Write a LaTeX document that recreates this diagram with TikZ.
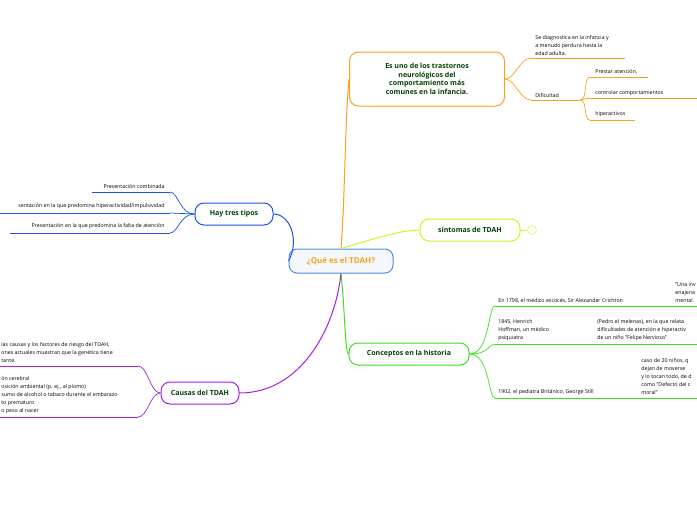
\documentclass[tikz,border=0pt]{standalone}
\usepackage{fontspec}
\setmainfont{Open Sans}
\begin{document}
\begin{tikzpicture}[x=1pt,y=-1pt,
  topic/.style={draw,line width=1pt,rounded corners=9pt,fill=white,font=\bfseries\fontsize{7}{8.5}\selectfont,text=green!25!black,align=center},
  sm/.style={font=\fontsize{5.3}{8}\selectfont,anchor=south west,inner sep=1pt,align=left},
  smr/.style={font=\fontsize{5.3}{8}\selectfont,anchor=south east,inner sep=1pt,align=left}]
\definecolor{cor}{HTML}{F7A21B}\definecolor{cyg}{HTML}{D4F01E}\definecolor{cgr}{HTML}{39E01E}
\definecolor{cpu}{HTML}{A41EE6}\definecolor{cbl}{HTML}{1E50E6}\definecolor{ccen}{HTML}{4A90E2}
\useasboundingbox (0,0) rectangle (697,520);
% center
\node[draw=ccen,line width=1pt,rounded corners=8pt,fill=ccen!6,minimum width=104pt,minimum height=24pt,font=\bfseries\fontsize{8}{9}\selectfont,text=cor] (c) at (341,261) {¿Qué es el TDAH?};
% topics
\node[topic,draw=cor,minimum width=155pt,minimum height=54pt] (t1) at (427,79) {Es uno de los trastornos\\neurológicos del\\comportamiento más\\comunes en la infancia.};
\node[topic,draw=cyg,minimum width=100pt,minimum height=22pt] (t2) at (470,230) {síntomas de TDAH};
\node[circle,draw=cyg,minimum size=9pt,inner sep=0] (t2c) at (532,230) {};
\node[topic,draw=cgr,minimum width=120pt,minimum height=22pt] (t3) at (409,354) {Conceptos en la historia};
\node[topic,draw=cpu,minimum width=78pt,minimum height=22pt] (t4) at (200,393) {Causas del TDAH};
\node[topic,draw=cbl,minimum width=78pt,minimum height=22pt] (t5) at (234,214) {Hay tres tipos};
\draw[cor,line width=1pt] (c.north) .. controls (345,200) and (345,120) .. (t1.west);
\draw[cyg,line width=1pt] (c.north) .. controls (370,240) and (400,230) .. (t2.west);
\draw[cyg] (t2.east) -- (t2c);
\draw[cgr,line width=1pt] (c.south) .. controls (345,310) and (345,354) .. (t3.west);
\draw[cpu,line width=1pt] (c.south) .. controls (335,330) and (300,393) .. (t4.east);
\draw[cbl,line width=1pt] (c.west) .. controls (300,240) and (290,214) .. (t5.east);
% orange branch
\begin{scope}[cor,line width=0.7pt]
\node[sm,text=black] (o1) at (534,57) {Se diagnostica en la infancia y\\a menudo perdura hasta la\\edad adulta.};
\draw (531,58) -- (625,58);
\node[sm,text=black] (o2) at (534,99) {Dificultad};
\draw (531,100) -- (580,100);
\draw (t1.east) .. controls (515,79) and (520,58) .. (531,58);
\draw (t1.east) .. controls (515,79) and (520,100) .. (531,100);
\node[sm,text=black] at (594,76) {Prestar atención,};
\node[sm,text=black] at (594,97) {controlar comportamientos};
\node[sm,text=black] at (594,118) {hiperactivos};
\draw (590,77) -- (648,77); \draw (590,98) -- (697,98); \draw (590,120) -- (635,120);
\draw (580,100) .. controls (588,100) and (583,77) .. (590,77);
\draw (580,100) -- (590,98);
\draw (580,100) .. controls (588,100) and (583,120) .. (590,120);
\end{scope}
% green branch
\begin{scope}[cgr,line width=0.7pt]
\node[sm,text=black] at (497,305) {En 1798, el médico escocés, Sir Alexander Crichton};
\draw (495,306) -- (672,306);
\node[sm,text=black] at (674,304) {"Una inv\\enajena\\mental.};
\node[sm,text=black] at (497,342) {1845, Henrich\\Hoffman, un médico\\psiquiatra};
\draw (495,344) -- (570,344);
\node[sm,text=black] at (596,342) {(Pedro el melenas), en la que relata\\dificultades de atención e hiperactiv\\de un niño "Felipe Nervioso"};
\draw (595,344) -- (697,344);
\node[sm,text=black] at (497,396) {1902, el pediatra Británico, George Still};
\draw (495,398) -- (612,398);
\node[sm,text=black] at (640,396) {caso de 20 niños, q\\dejan de moverse\\ y lo tocan todo, de d\\como "Defecto del c\\ moral"};
\draw (640,398) -- (697,398);
\draw (t3.east) .. controls (490,354) and (488,306) .. (495,306);
\draw (t3.east) .. controls (490,354) and (488,344) .. (495,344);
\draw (t3.east) .. controls (490,354) and (488,398) .. (495,398);
\draw (570,344) -- (595,344); \draw (612,398) -- (640,398); \draw (672,306) -- (697,306);
\end{scope}
% purple branch
\begin{scope}[cpu,line width=0.7pt]
\node[sm,text=black] at (0,364) {las causas y los factores de riesgo del TDAH,\\ones actuales muestran que la genética tiene\\tante.};
\draw (0,366) -- (138,366);
\node[sm,text=black] at (0,415) {ón cerebral\\osición ambiental (p. ej., al plomo)\\sumo de alcohol o tabaco durante el embarazo\\to prematuro\\o peso al nacer};
\draw (0,417) -- (138,417);
\draw (t4.west) .. controls (150,393) and (148,366) .. (138,366);
\draw (t4.west) .. controls (150,393) and (148,417) .. (138,417);
\end{scope}
% blue branch
\begin{scope}[cbl,line width=0.7pt]
\node[smr,text=black] at (166,190) {Presentación combinada};
\draw (92,192) -- (170,192);
\node[smr,text=black] at (166,210) {sentación en la que predomina hiperactividad/impulsividad};
\draw (0,213) -- (170,213);
\node[smr,text=black] at (166,230) {Presentación en la que predomina la falta de atención};
\draw (10,233) -- (170,233);
\draw (t5.west) .. controls (180,214) and (178,192) .. (170,192);
\draw (t5.west) -- (170,213);
\draw (t5.west) .. controls (180,214) and (178,233) .. (170,233);
\end{scope}
\end{tikzpicture}
\end{document}
